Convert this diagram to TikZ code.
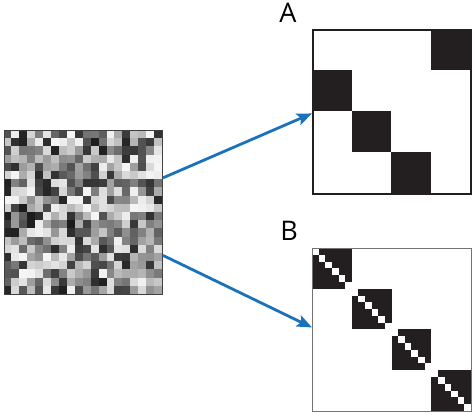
\documentclass[tikz,border=0pt]{standalone}
\usepackage{fontspec}
\setsansfont{Open Sans}
\usetikzlibrary{arrows.meta,calc}
\definecolor{arrowblue}{RGB}{27,114,188}
\definecolor{blk}{RGB}{35,31,32}
\tikzset{
  matbox/.style={draw, inner sep=0pt, anchor=north west, fill=none},
  conn/.style={arrowblue, line width=2.8pt, -{Stealth[length=15pt,width=12pt,inset=3pt]}},
  lbl/.style={font=\sffamily\fontsize{27}{30}\selectfont, inner sep=0pt}
}
\begin{document}
\begin{tikzpicture}[x=1pt,y=-1pt]
\useasboundingbox (0,0) rectangle (474,415);
\fill[white] (0,0) rectangle (474,415);
% random gray matrix
\pgfmathsetseed{4711}
\foreach \i in {0,...,19}{
  \foreach \j in {0,...,19}{
    \pgfmathsetmacro\g{int(4+86*(rnd^1.35))}
    \fill[black!\g] ({3.5+\j*7.925},{130+\i*8.2}) rectangle ++(8.1,8.4);
  }
}
\node[matbox, draw=black!75, line width=1pt, minimum width=158.5pt, minimum height=164pt] (src) at (3.5,130) {};
% matrix A
\foreach \r/\c in {0/3,1/0,2/1,3/2}
  \fill[blk] ({312+\c*39.5},{29+\r*41}) rectangle ++(39.5,41);
\node[matbox, draw=blk, line width=1.5pt, minimum width=158pt, minimum height=164pt] (matA) at (312,29) {};
% matrix B
\foreach \k in {0,...,3}
  \fill[blk] ({312+6*\k*6.625},{248+6*\k*6.79}) rectangle ++(39.75,40.75);
\foreach \n in {0,...,23}
  \fill[white] ({312+\n*6.625},{248+\n*6.79}) rectangle ++(6.625,6.79);
\node[matbox, draw=black!55, line width=0.9pt, minimum width=159pt, minimum height=163pt] (matB) at (312,248) {};
% labels
\node[lbl] (labA) at (288,13) {A};
\node[lbl] (labB) at (289,231) {B};
% connectors
\coordinate (s1) at ($(src.north east)!0.29!(src.south east)$);
\coordinate (s2) at ($(src.north east)!0.76!(src.south east)$);
\coordinate (e1) at ($(matA.north west)!0.51!(matA.south west)$);
\coordinate (e2) at ($(matB.north west)!0.485!(matB.south west)$);
\draw[conn] (s1) -- (e1);
\draw[conn] (s2) -- (e2);
\end{tikzpicture}
\end{document}
